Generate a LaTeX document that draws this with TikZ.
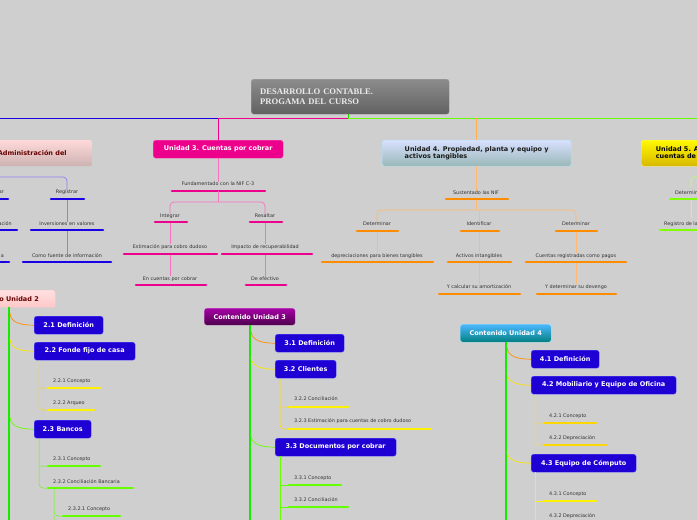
\documentclass[tikz,border=0pt]{standalone}
\usepackage{fontspec}
\setmainfont{DejaVu Sans}
\newfontfamily\titlefont{Liberation Serif}
\begin{document}
\begin{tikzpicture}[x=1pt,y=-1pt,
 box/.style={rounded corners=2.5pt,anchor=north west,inner sep=0pt,font=\fontsize{6.5}{7.7}\selectfont\bfseries,align=left,text=white},
 bluebox/.style={box,fill=blue!75!violet!95!black,draw=blue!60!white,line width=0.4pt},
 leaf/.style={font=\fontsize{4.9}{5.5}\selectfont,text=black!80,inner sep=0pt},
 ul/.style={line width=2.6pt,line cap=round},
 cn/.style={line width=0.7pt,rounded corners=4pt},
]
\clip (0,0) rectangle (697,520);
\fill[black!19!white] (0,0) rectangle (697,520);
\colorlet{mag}{magenta}
\colorlet{org}{orange!90!yellow}
\colorlet{lime}{green!60!yellow}
\colorlet{blu}{blue!80!violet}
% title
\node[box,top color=black!45,bottom color=black!62,draw=black!35,minimum width=194pt,minimum height=35pt,font=\titlefont\fontsize{8.6}{9.2}\selectfont\bfseries,text=white!92!black,text width=180pt,inner xsep=9pt] (title) at (251,79) {DESARROLLO CONTABLE.\\PROGAMA DEL CURSO};
\coordinate (hub) at (348,118);
\draw[blu,line width=1pt] (0,118) -- (218,118);
\draw[mag,line width=1pt] (218,118) -- (hub);
\draw[lime,line width=1pt] (hub) -- (697,118);
\draw[green!70!black!60!lime,line width=0.8pt] (title.south -| hub) -- (hub);
% ---------- Unidad 2 -----------
\node[box,top color=red!15!white,bottom color=red!35!black!30!white,minimum width=164pt,minimum height=26pt,text=red!40!black,inner xsep=6pt] (u2) at (-72,140) {\hspace*{6pt}Unidad 2. Administración del};
\coordinate (u2a) at (0,177);
\draw[blu!50!white,cn] (u2a) -- (67,177) -- (67,190);
\node[leaf] (reg) at (67,192) {Registrar};
\draw[blu,ul] (51,199) -- (84,199);
\node[leaf] (inv) at (67,224) {Inversiones en valores};
\draw[blu,ul] (31,230) -- (103,230);
\node[leaf] (com) at (67,256) {Como fuente de información};
\draw[blu,ul] (23,262) -- (111,262);
\draw[blu!50!white,line width=0.7pt] (67,200) -- (inv.north) (67,231) -- (com.north);
\node[leaf,anchor=east] (l1) at (4,192) {ar};
\draw[blu,ul] (-5,199) -- (8,199);
\node[leaf,anchor=east] (l2) at (12,224) {ación};
\draw[blu,ul] (-5,230) -- (17,230);
\node[leaf,anchor=east] (l3) at (4,256) {a};
\draw[blu,ul] (-5,262) -- (9,262);
\node[box,top color=red!12!white,bottom color=red!22!white,draw=red!20!white,minimum width=105pt,minimum height=17pt,text=red!40!black,inner xsep=5pt] (c2) at (-50,290) {Contenido Unidad 2};
\draw[green!90!black!80!lime,line width=2.6pt] (9,307) -- (9,520);
\node[bluebox,minimum width=69pt,minimum height=18pt,inner xsep=7pt] (d21) at (34,316) {2.1 Definición};
\node[bluebox,minimum width=101pt,minimum height=18pt,inner xsep=7pt] (d22) at (34,342) {2.2 Fonde fijo de casa};
\node[bluebox,minimum width=57pt,minimum height=18pt,inner xsep=7pt] (d23) at (34,420) {2.3 Bancos};
\draw[org,line width=0.7pt] (10,313) to[out=-90,in=180] (d21.west);
\draw[yellow!90!orange,line width=0.7pt] (10,339) to[out=-90,in=180] (d22.west);
\draw[lime,line width=0.7pt] (10,417) to[out=-90,in=180] (d23.west);
\node[leaf,anchor=west] (a221) at (53,381) {2.2.1 Concepto};
\draw[yellow,ul] (48,388) -- (100,388);
\node[leaf,anchor=west] (a222) at (53,403) {2.2.2 Arqueo};
\draw[yellow,ul] (48,410) -- (94,410);
\draw[yellow!80!orange,cn,line width=0.5pt] (d22.south -| 39,0) -- (39,410) -- (48,410) (39,388) -- (48,388);
\node[leaf,anchor=west] (a231) at (53,459) {2.3.1 Concepto};
\draw[lime,ul] (48,466) -- (100,466);
\node[leaf,anchor=west] (a232) at (53,482) {2.3.2 Conciliación Bancaria};
\draw[lime,ul] (48,488) -- (133,488);
\draw[lime,cn,line width=0.5pt] (d23.south -| 39,0) -- (39,488) -- (48,488) (39,466) -- (48,466);
\node[leaf,anchor=west] (a2321) at (68,509) {2.3.2.1 Concepto};
\draw[lime,ul] (63,516) -- (120,516);
\draw[lime,cn,line width=0.5pt] (54,488) -- (54,516) -- (63,516) (54,516) -- (54,520);
% ---------- Unidad 3 -----------
\node[box,fill=mag,draw=mag!60!white,minimum width=130pt,minimum height=18pt,inner xsep=8pt] (u3) at (153,140) {Unidad 3. Cuentas por cobrar};
\draw[mag,line width=1pt] (218,118) -- (u3.north -| 218,0);
\colorlet{magl}{magenta!55!white}
\node[leaf] (fun) at (218,184) {Fundamentado con la NIF C-3};
\draw[mag,ul] (172,191) -- (265,191);
\draw[magl,line width=0.7pt] (u3.south -| 218,0) -- (fun.north);
\node[leaf] (int) at (170,216) {Integrar};
\draw[mag,ul] (155,222) -- (187,222);
\node[leaf] (res) at (265,216) {Resaltar};
\draw[mag,ul] (250,222) -- (282,222);
\draw[magl,cn] (218,191) -- (218,202);
\draw[magl,cn] (int.north) -- (170,202) -- (265,202) -- (res.north);
\node[leaf] (est) at (170,247) {Estimación para cobro dudoso};
\draw[mag,ul] (124,254) -- (217,254);
\node[leaf] (imp) at (265,247) {Impacto de recuperabilidad};
\draw[mag,ul] (222,254) -- (312,254);
\node[leaf] (enc) at (170,279) {En cuentas por cobrar};
\draw[mag,ul] (136,285) -- (206,285);
\node[leaf] (def) at (265,279) {De efectivo};
\draw[mag,ul] (246,285) -- (286,285);
\draw[magl,line width=0.7pt] (170,223) -- (est.north) (265,223) -- (imp.north) (170,255) -- (enc.north) (265,255) -- (def.north);
\node[box,top color=violet!70!magenta,bottom color=violet!60!black,draw=violet!40!white,minimum width=91pt,minimum height=17pt,inner xsep=7pt] (c3) at (204,308) {Contenido Unidad 3};
\draw[green!90!black!80!lime,line width=2.6pt] (250,325) -- (250,520);
\node[bluebox,minimum width=69pt,minimum height=18pt,inner xsep=7pt] (d31) at (275,334) {3.1 Definición};
\node[bluebox,minimum width=61pt,minimum height=18pt,inner xsep=7pt] (d32) at (275,360) {3.2 Clientes};
\node[bluebox,minimum width=121pt,minimum height=18pt,inner xsep=7pt] (d33) at (275,438) {3.3 Documentos por cobrar};
\draw[org,line width=0.7pt] (251,331) to[out=-90,in=180] (d31.west);
\draw[yellow!90!orange,line width=0.7pt] (251,357) to[out=-90,in=180] (d32.west);
\draw[lime,line width=0.7pt] (251,435) to[out=-90,in=180] (d33.west);
\node[leaf,anchor=west] (a322) at (294,399) {3.2.2 Conciliación};
\draw[yellow,ul] (289,407) -- (348,407);
\node[leaf,anchor=west] (a323) at (294,421) {3.2.3 Estimación para cuentas de cobro dudoso};
\draw[yellow,ul] (289,429) -- (431,429);
\draw[yellow!80!orange,cn,line width=0.5pt] (d32.south -| 280,0) -- (280,429) -- (289,429) (280,407) -- (289,407);
\node[leaf,anchor=west] (a331) at (294,478) {3.3.1 Concepto};
\draw[lime,ul] (289,485) -- (341,485);
\node[leaf,anchor=west] (a332) at (294,500) {3.3.2 Conciliación};
\draw[lime,ul] (289,507) -- (348,507);
\draw[lime,cn,line width=0.5pt] (d33.south -| 280,0) -- (280,520) (280,485) -- (289,485) (280,507) -- (289,507);
% ---------- Unidad 4 -----------
\node[box,top color=cyan!20!blue!15!white,bottom color=cyan!30!black!40!white,draw=white!70!cyan,minimum width=189pt,minimum height=26pt,text=black!90,inner xsep=8pt] (u4) at (382,140) {Unidad 4. Propiedad, planta y equipo y\\activos tangibles};
\draw[org!70!white,line width=0.8pt] (476,118) -- (u4.north -| 476,0);
\colorlet{orgl}{orange!55!white}
\node[leaf] (sus) at (476,193) {Sustentado las NIF};
\draw[org,ul] (446,199) -- (508,199);
\draw[orgl,line width=0.7pt] (u4.south -| 476,0) -- (sus.north) (476,200) -- (476,210);
\node[leaf] (det1) at (377,224) {Determinar};
\draw[org,ul] (357,231) -- (398,231);
\node[leaf] (ide) at (479,224) {Identificar};
\draw[org,ul] (461,231) -- (499,231);
\node[leaf] (det2) at (576,224) {Determinar};
\draw[org,ul] (556,231) -- (597,231);
\draw[orgl,cn] (det1.north) -- (377,210) -- (576,210) -- (det2.north);
\draw[orgl,line width=0.7pt] (479,210) -- (ide.north);
\node[leaf] (dep) at (377,256) {depreciaciones para bienes tangibles};
\draw[org,ul] (322,262) -- (433,262);
\node[leaf] (act) at (479,256) {Activos intangibles};
\draw[org,ul] (448,262) -- (511,262);
\node[leaf] (cue) at (576,256) {Cuentas registradas como pagos};
\draw[org,ul] (526,262) -- (626,262);
\node[leaf] (yca) at (479,287) {Y calcular su amortización};
\draw[org,ul] (439,294) -- (520,294);
\node[leaf] (yde) at (576,287) {Y determinar su devengo};
\draw[org,ul] (537,294) -- (616,294);
\draw[orgl,line width=0.7pt] (377,232) -- (dep.north) (479,232) -- (act.north) (576,232) -- (cue.north) (479,263) -- (yca.north) (576,263) -- (yde.north);
\node[box,top color=cyan!60!blue!70!white,bottom color=cyan!50!black,draw=cyan!30!white,minimum width=91pt,minimum height=18pt,inner xsep=7pt] (c4) at (460,324) {Contenido Unidad 4};
\draw[green!90!black!80!lime,line width=2.6pt] (506,342) -- (506,520);
\node[bluebox,minimum width=68pt,minimum height=18pt,inner xsep=7pt] (d41) at (531,350) {4.1 Definición};
\node[bluebox,minimum width=145pt,minimum height=18pt,inner xsep=7pt] (d42) at (531,376) {4.2 Mobiliario y Equipo de Oficina};
\node[bluebox,minimum width=105pt,minimum height=18pt,inner xsep=7pt] (d43) at (531,454) {4.3 Equipo de Cómputo};
\draw[org,line width=0.7pt] (507,347) to[out=-90,in=180] (d41.west);
\draw[yellow!80!orange,line width=0.7pt] (507,373) to[out=-90,in=180] (d42.west);
\draw[yellow!90!orange,line width=0.7pt] (507,451) to[out=-90,in=180] (d43.west);
\colorlet{gold}{yellow!75!orange}
\node[leaf,anchor=west] (a421) at (549,416) {4.2.1 Concepto};
\draw[gold,ul] (544,423) -- (596,423);
\node[leaf,anchor=west] (a422) at (549,438) {4.2.2 Depreciación};
\draw[gold,ul] (544,445) -- (606,445);
\draw[gold!80!white,cn,line width=0.5pt] (d42.south -| 535,0) -- (535,445) -- (544,445) (535,423) -- (544,423);
\node[leaf,anchor=west] (a431) at (549,494) {4.3.1 Concepto};
\draw[yellow,ul] (544,501) -- (596,501);
\node[leaf,anchor=west] (a432) at (549,516) {4.3.2 Depreciación};
\draw[yellow,cn,line width=0.5pt] (d43.south -| 535,0) -- (535,520) (535,501) -- (544,501);
% ---------- Unidad 5 -----------
\node[box,top color=yellow!95!orange,bottom color=yellow!70!orange!85!black,draw=yellow!60!white,minimum width=120pt,minimum height=26pt,text=black,inner xsep=6pt] (u5) at (641,140) {Unidad 5. Análisis de las\\cuentas de por pagar};
\colorlet{liml}{green!40!yellow!60!white}
\node[leaf,anchor=west] (det5) at (675,193) {Determinar};
\draw[green!50!yellow,ul] (670,199) -- (710,199);
\node[leaf,anchor=west] (reg5) at (664,224) {Registro de las cuentas};
\draw[green!50!yellow,ul] (660,230) -- (720,230);
\draw[liml,cn] (705,177) -- (691,177) -- (691,187);
\draw[liml,line width=0.7pt] (691,200) -- (691,218);
\end{tikzpicture}
\end{document}
